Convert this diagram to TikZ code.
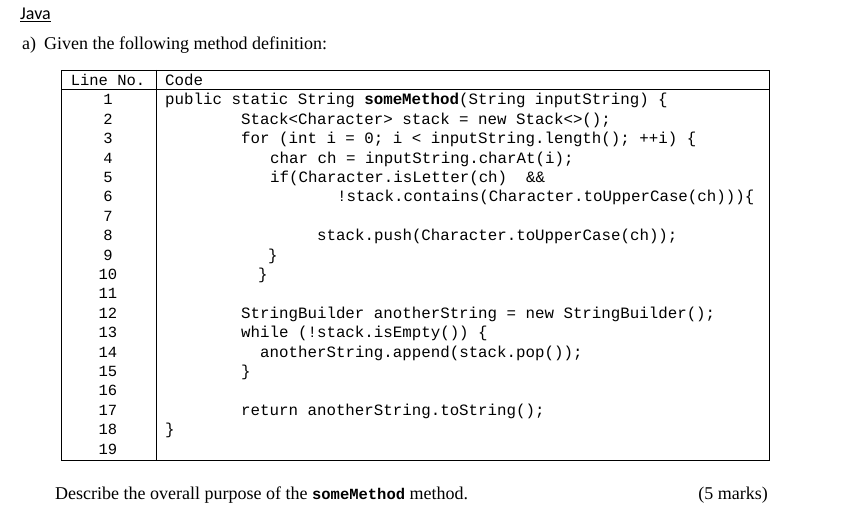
\documentclass[tikz,border=0pt]{standalone}
\usepackage{fontspec}
\setmainfont{Liberation Serif}
\newfontfamily\codefont{Liberation Mono}
\newfontfamily\javafont{Carlito}
\begin{document}
\begin{tikzpicture}[x=1pt,y=-1pt,
  code/.style={anchor=base west,inner sep=0pt,font=\codefont\fontsize{15.8}{16}\selectfont},
  num/.style={anchor=base,inner sep=0pt,font=\codefont\fontsize{15.5}{16}\selectfont},
  serif/.style={anchor=base west,inner sep=0pt,font=\fontsize{18}{20}\selectfont}]
\useasboundingbox (0,0) rectangle (851,511);
\draw[line width=0.8pt] (61,70) rectangle (769,460);
\draw[line width=0.8pt] (61,89) -- (769,89);
\draw[line width=0.8pt] (156,70) -- (156,460);
\node[anchor=base west,inner sep=0pt,font=\javafont\fontsize{18}{20}\selectfont] (java) at (20,20) {\underline{Java}};
\node[serif] (qa) at (22,50) {a)\hspace{8pt}Given the following method definition:};
\node[num] (hl) at (108,85) {Line No.};
\node[code] (hc) at (165,85) {Code};
\foreach \i in {1,...,19} {
  \node[num] (n\i) at (108,{85.5+19.4*\i}) {\i};
}
\newcommand{\cl}[3]{\node[code] (c#1) at (#2,{85.5+19.4*#1}) {#3};}
\cl{1}{165}{public static String \textbf{someMethod}(String inputString) \{}
\cl{2}{241}{Stack<Character> stack = new Stack<>();}
\cl{3}{241}{for (int i = 0; i < inputString.length(); ++i) \{}
\cl{4}{270}{char ch = inputString.charAt(i);}
\cl{5}{270}{if(Character.isLetter(ch) \ \&\&}
\cl{6}{337}{!stack.contains(Character.toUpperCase(ch)))\{}
\cl{8}{317}{stack.push(Character.toUpperCase(ch));}
\cl{9}{268}{\}}
\cl{10}{258}{\}}
\cl{12}{241}{StringBuilder anotherString = new StringBuilder();}
\cl{13}{241}{while (!stack.isEmpty()) \{}
\cl{14}{260}{anotherString.append(stack.pop());}
\cl{15}{241}{\}}
\cl{17}{241}{return anotherString.toString();}
\cl{18}{165}{\}}
\node[serif] (qd) at (55,499) {Describe the overall purpose of the {\codefont\bfseries\fontsize{15.5}{16}\selectfont someMethod} method.};
\node[anchor=base east,inner sep=0pt,font=\fontsize{18}{20}\selectfont] (mk) at (768,499) {(5 marks)};
\end{tikzpicture}
\end{document}
